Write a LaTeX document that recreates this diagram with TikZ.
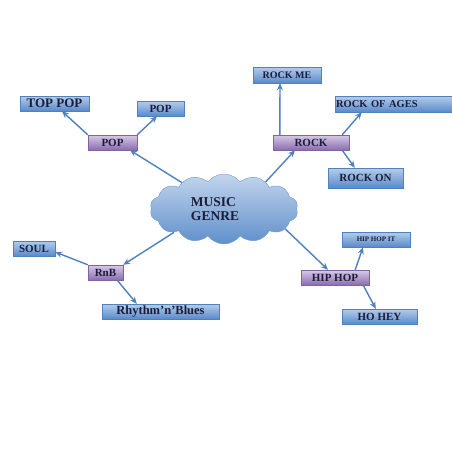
\documentclass[tikz,border=0pt]{standalone}
\usepackage{fontspec}
\setmainfont{Liberation Serif}
\usetikzlibrary{shapes.symbols,arrows.meta}
\definecolor{edgeblue}{HTML}{4F81BD}
\definecolor{leaftop}{HTML}{B3CDEB}
\definecolor{leafbottom}{HTML}{5A8ACB}
\definecolor{edgepurple}{HTML}{8064A2}
\definecolor{branchtop}{HTML}{D8CAE8}
\definecolor{branchbottom}{HTML}{8A6DAF}
\definecolor{cloudtop}{HTML}{C2D5EC}
\definecolor{cloudbottom}{HTML}{5F8FCB}
\definecolor{inktext}{HTML}{1C1C38}
\tikzset{
	leaf/.style={draw=edgeblue, top color=leaftop, bottom color=leafbottom,
		minimum height=15pt, inner sep=0pt, text=inktext,
		font=\bfseries\fontsize{11}{12}\selectfont},
	branch/.style={leaf, draw=edgepurple, top color=branchtop, bottom color=branchbottom},
	link/.style={-{Stealth[length=7pt,width=6pt]}, edgeblue, line width=1.4pt}
}
\begin{document}
\begin{tikzpicture}[x=1pt,y=-1pt]
	\useasboundingbox (0,0) rectangle (452,452);
	\fill[white] (0,0) rectangle (452,452);
	% centre
	\node[cloud, cloud puffs=14, cloud puff arc=105, aspect=2.1, draw=edgeblue!80,
		top color=cloudtop, bottom color=cloudbottom, minimum width=148pt,
		minimum height=70pt] (music) at (224,209) {};
	\node[font=\bfseries\fontsize{13.5}{14}\selectfont, text=inktext, align=left]
		(musictext) at (215,209) {MUSIC\\GENRE};
	% pop
	\node[branch, minimum width=49pt] (pop) at (112.5,142.5) {POP};
	\node[leaf, minimum width=69pt, font=\bfseries\fontsize{13}{14}\selectfont]
		(toppop) at (54.5,103.5) {TOP POP};
	\node[leaf, minimum width=47pt] (pop2) at (160.5,108.5) {POP};
	% rock
	\node[branch, minimum width=76pt] (rock) at (311,142.5) {ROCK};
	\node[leaf, minimum width=68pt, minimum height=16pt,
		font=\bfseries\fontsize{10}{11}\selectfont] (rockme) at (287,75) {ROCK ME};
	\node[leaf, minimum height=16pt, text width=115pt, align=left, inner xsep=1pt,
		font=\bfseries\fontsize{10.5}{11}\selectfont] (rockages) at (393.5,104) {ROCK OF AGES};
	\node[leaf, minimum width=75pt, minimum height=20pt] (rockon) at (365.5,178) {ROCK ON};
	% rnb
	\node[branch, minimum width=35pt] (rnb) at (105.5,272.5) {RnB};
	\node[leaf, minimum width=42pt] (soul) at (34,248.5) {SOUL};
	\node[leaf, minimum width=117pt, font=\bfseries\fontsize{12.5}{13}\selectfont]
		(rhythm) at (160.5,311.5) {Rhythm’n’Blues};
	% hip hop
	\node[branch, minimum width=68pt] (hiphop) at (335,277.5) {HIP HOP};
	\node[leaf, minimum width=68pt, font=\bfseries\fontsize{7}{8}\selectfont]
		(hiphopit) at (376,239.5) {HIP HOP IT};
	\node[leaf, minimum width=75pt] (hohey) at (379.5,316.5) {HO HEY};
	% arrows
	\draw[link] (music) -- ([xshift=17.5pt]pop.south);
	\draw[link] (music.33) -- ([xshift=-16pt]rock.south);
	\draw[link] (music.205) -- (rnb.north east);
	\draw[link] (music.-18) -- ([xshift=-7pt]hiphop.north);
	\draw[link] (pop.north west) -- ([xshift=7.5pt]toppop.south);
	\draw[link] (pop.north east) -- ([xshift=-3.5pt]pop2.south);
	\draw[link] ([xshift=7pt]rock.north west) -- ([xshift=-7pt]rockme.south);
	\draw[link] ([xshift=-7pt]rock.north east) -- ([xshift=27pt]rockages.south west);
	\draw[link] ([xshift=-7pt]rock.south east) -- ([xshift=27pt]rockon.north west);
	\draw[link] (rnb.north west) -- ([yshift=-3.5pt]soul.east);
	\draw[link] ([xshift=-6pt]rnb.south east) -- ([xshift=35pt]rhythm.north west);
	\draw[link] ([xshift=-14pt]hiphop.north east) -- ([xshift=-13pt]hiphopit.south);
	\draw[link] ([xshift=-6pt]hiphop.south east) -- ([xshift=34pt]hohey.north west);
\end{tikzpicture}
\end{document}
